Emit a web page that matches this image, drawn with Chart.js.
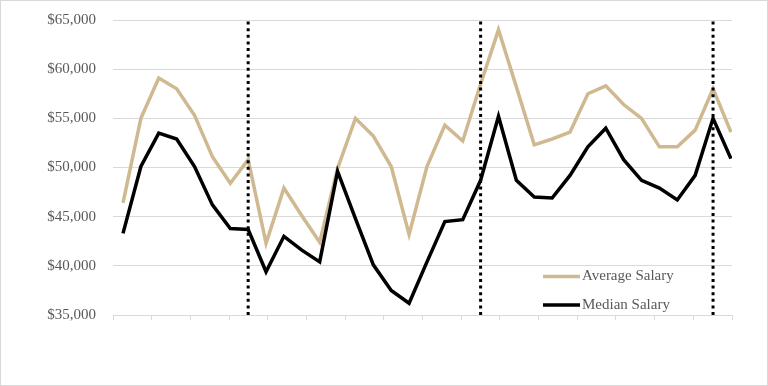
<!DOCTYPE html>
<html><head><meta charset="utf-8">
<script src="https://cdn.jsdelivr.net/npm/chart.js@4/dist/chart.umd.min.js"></script>
<style>
html,body{margin:0;padding:0;background:#fff;}
#wrap{position:relative;width:766px;height:384px;border:1px solid #d9d9d9;background:#fff;}
canvas{position:absolute;left:-1px;top:-1px;}
</style></head><body>
<div id="wrap"><canvas id="c" width="768" height="386"></canvas></div>
<script>
// ---- data ----
const seriesNames = ['Average Salary', 'Median Salary'];
const averageSalary = [46400, 55000, 59100, 58000, 55300, 51100, 48400, 50800, 42300, 47900, 45100, 42400, 49900, 55000, 53200, 50100, 43200, 50100, 54300, 52700, 58500, 64000, 58200, 52300, 52900, 53600, 57500, 58300, 56400, 55000, 52100, 52100, 53800, 58000, 53600];
const medianSalary = [43300, 50100, 53500, 52900, 50100, 46200, 43800, 43700, 39400, 43000, 41600, 40400, 49600, 44800, 40100, 37500, 36200, 40400, 44500, 44700, 48700, 55200, 48700, 47000, 46900, 49200, 52100, 54000, 50800, 48700, 47900, 46700, 49200, 55000, 50900];
const dividerPositions = [7, 20, 33];
const yMin = 35000, yMax = 65000, yStep = 5000;
const xMin = -0.56, xMax = 34.06;
const xTickMarkCount = 16;

const seriesColors = ['#CFB991', '#000000'];
const textColor = '#595959';
const gridColor = '#d9d9d9';
const fontFamily = "'Liberation Serif', 'Times New Roman', serif";

const toPoints = arr => arr.map((v, i) => ({x: i, y: v}));

const datasets = [];
dividerPositions.forEach(p => {
  datasets.push({
    label: 'divider', inLegend: false,
    data: [{x: p, y: yMin}, {x: p, y: yMax}],
    borderColor: '#000', borderWidth: 3, borderDash: [3, 3.6], borderCapStyle: 'butt',
    pointRadius: 0, order: 0, clip: false
  });
});
datasets.push({
  label: seriesNames[1], inLegend: true, legendRow: 1,
  data: toPoints(medianSalary), borderColor: seriesColors[1], borderWidth: 3.5,
  pointRadius: 0, tension: 0, order: 1
});
datasets.push({
  label: seriesNames[0], inLegend: true, legendRow: 0,
  data: toPoints(averageSalary), borderColor: seriesColors[0], borderWidth: 3.5,
  pointRadius: 0, tension: 0, order: 2
});

const legendPlugin = {
  id: 'insideLegend',
  afterDatasetsDraw(chart) {
    const ctx = chart.ctx, a = chart.chartArea;
    const items = chart.data.datasets.filter(d => d.inLegend).sort((p, q) => p.legendRow - q.legendRow);
    ctx.save();
    ctx.font = "15px " + fontFamily;
    ctx.textBaseline = 'middle';
    ctx.fillStyle = textColor;
    items.forEach((d, k) => {
      const y = a.bottom - 38.5 + k * 28.5;
      const x0 = a.right - 189;
      ctx.strokeStyle = d.borderColor;
      ctx.lineWidth = 3.5;
      ctx.beginPath(); ctx.moveTo(x0, y); ctx.lineTo(x0 + 37, y); ctx.stroke();
      ctx.fillText(d.label, x0 + 39, y);
    });
    ctx.restore();
  }
};

new Chart(document.getElementById('c'), {
  type: 'line',
  data: { datasets },
  options: {
    responsive: false, animation: false,
    layout: { padding: { top: 20, right: 36, bottom: 66, left: 0 } },
    plugins: { legend: { display: false }, tooltip: { enabled: false } },
    scales: {
      x: { type: 'linear', display: false, min: xMin, max: xMax },
      x2: {
        type: 'linear', position: 'bottom', min: 0, max: xTickMarkCount,
        ticks: { stepSize: 1, display: false },
        grid: { drawOnChartArea: false, drawTicks: true, tickLength: 5, color: gridColor },
        border: { display: true, color: gridColor },
        afterFit: s => { s.height = 5; }
      },
      y: {
        min: yMin, max: yMax,
        ticks: {
          stepSize: yStep, padding: 17, color: textColor,
          font: { family: fontFamily, size: 15 },
          callback: v => '$' + Number(v).toLocaleString('en-US')
        },
        grid: { color: gridColor, drawTicks: false },
        border: { display: false },
        afterFit: s => { s.width = 113; s.paddingTop = 9; s.paddingBottom = 9; }
      }
    }
  },
  plugins: [legendPlugin]
});
</script>
</body></html>
